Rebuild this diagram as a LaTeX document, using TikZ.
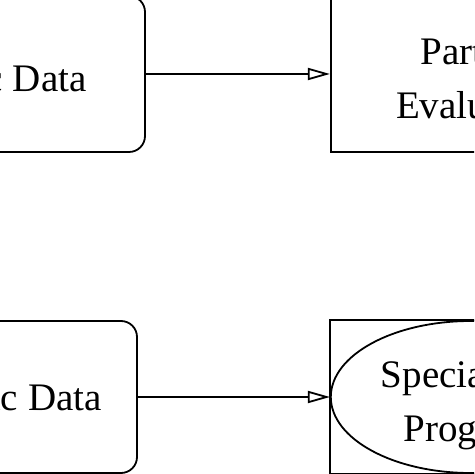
\documentclass[tikz,border=0pt]{standalone}
\usepackage{fontspec}
\setmainfont{Liberation Serif}
\usetikzlibrary{arrows.meta,shapes,positioning}

\begin{document}
\begin{tikzpicture}[node distance = 92pt, auto, line width=0.9pt]
        \tikzstyle{block} = [rectangle, draw, align=center,
                             minimum width=141pt, minimum height=78pt,
                             font=\fontsize{19.5}{27}\selectfont]
        \tikzstyle{rblock} = [block, rounded corners=8pt,
                              execute at begin node={\rule{0pt}{18pt}}]
        \tikzstyle{oval} = [ellipse, draw, align=center, inner sep=0pt,
                            minimum width=140pt, minimum height=76pt,
                            font=\fontsize{19.5}{27}\selectfont]
        \tikzstyle{arrow} = [draw, -{Triangle[open, length=11pt, width=6pt]}]
        \useasboundingbox (0,0) rectangle (237pt,-237pt);
        \clip (0,0) rectangle (237pt,-237pt);
        \node[rblock, minimum width=144.5pt] (static) at (0.25pt,-37pt)
          {Static Data};
        \node[block, right = 92pt of static] (partial)
          {\rule{0pt}{17.5pt}Partial\\Evaluator};
        \path[arrow] (static) -- (partial);
        \node[rblock, minimum width=148.5pt, minimum height=76pt] (dynamic)
          at (-5.75pt,-198.5pt) {Dynamic Data};
        \node[oval, right = 96pt of dynamic] (spec)
          {\rule{0pt}{21.5pt}Specialized\\Program};
        \draw (spec.west |- spec.north) rectangle (spec.east |- spec.south);
        \path[arrow] (dynamic) -- (spec);
\end{tikzpicture}
\end{document}
